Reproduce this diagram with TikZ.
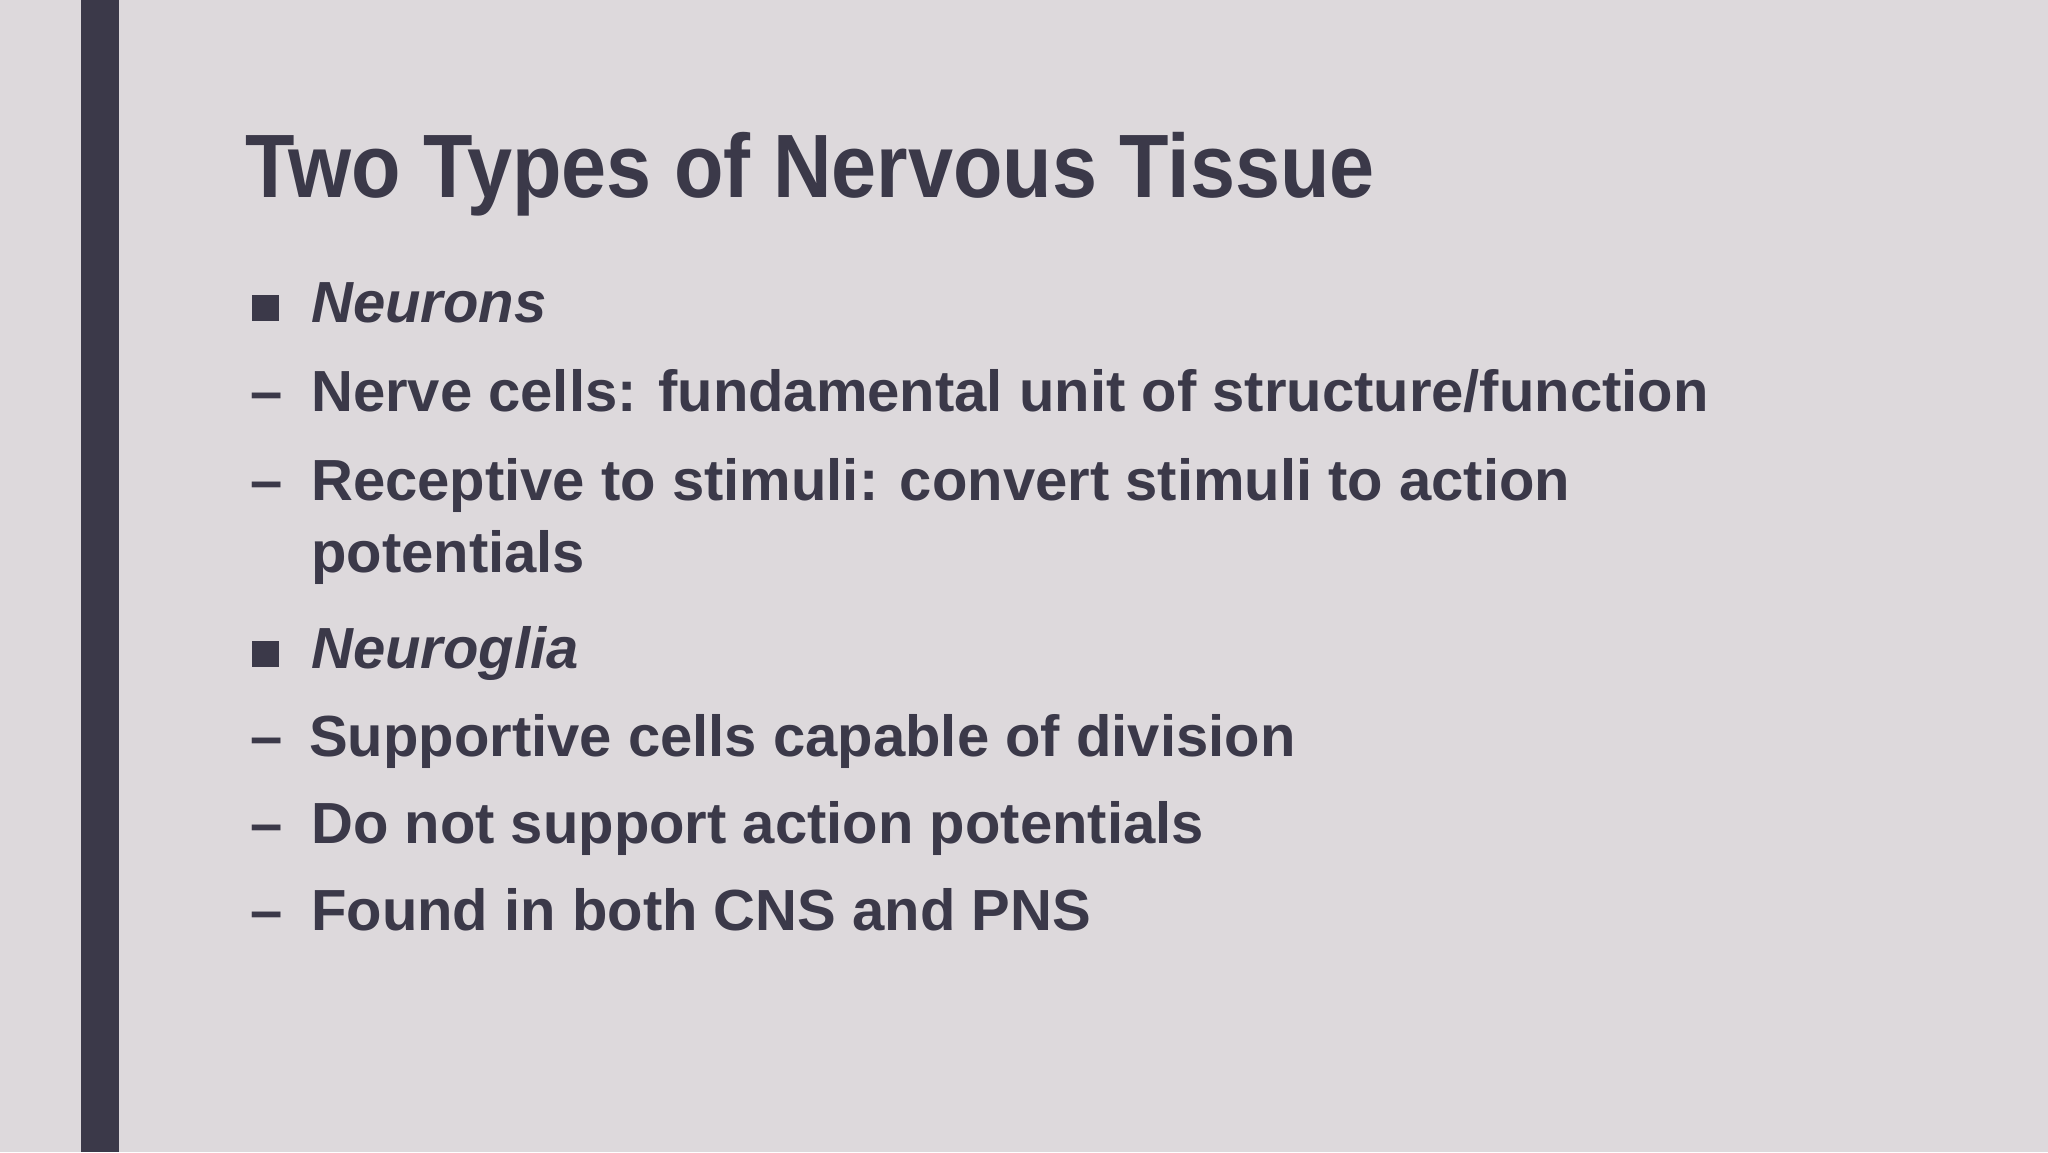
\documentclass[tikz,border=0pt]{standalone}
\usepackage{fontspec}
\setmainfont{Liberation Sans}
\definecolor{bg}{HTML}{DDD9DC}
\definecolor{ink}{HTML}{3B3949}
\begin{document}
\begin{tikzpicture}[x=1pt,y=-1pt,
  body/.style={anchor=base west,inner sep=0,text=ink,font=\fontsize{58}{70}\selectfont\bfseries},
  ttl/.style={anchor=base west,inner sep=0,text=ink,font=\fontsize{90}{100}\selectfont\bfseries}]
\fill[bg] (0,0) rectangle (2048,1152);
\useasboundingbox (0,0) rectangle (2048,1152);
\fill[ink] (81,0) rectangle (119,1152);
\node[ttl] (t) at (245,197) {\scalebox{0.9}[1]{Two Types of Nervous Tissue}};
\foreach \n/\y in {b1/321,b2/667}{\fill[ink] (252,\y-26) rectangle (279,\y) coordinate (\n);}
\foreach \n/\y in {d1/411,d2/500,d3/756,d4/843,d5/930}{\node[body] (\n) at (250,\y) {–};}
\node[body] (l1) at (311,322) {\itshape Neurons};
\node[body] (l2) at (311,411) {Nerve cells: fundamental unit of structure/function};
\node[body] (l3) at (311,500) {Receptive to stimuli: convert stimuli to action};
\node[body] (l4) at (311,572) {potentials};
\node[body] (l5) at (311,668) {\itshape Neuroglia};
\node[body] (l6) at (309,756) {Supportive cells capable of division};
\node[body] (l7) at (311,843) {Do not support action potentials};
\node[body] (l8) at (311,930) {Found in both CNS and PNS};
\end{tikzpicture}
\end{document}
